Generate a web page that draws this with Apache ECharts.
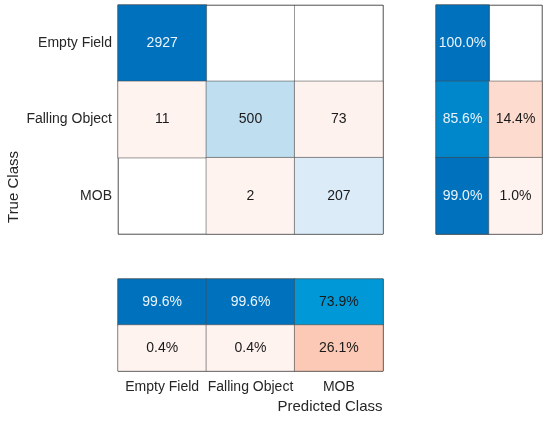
<!DOCTYPE html>
<html><head><meta charset="utf-8">
<script src="https://cdn.jsdelivr.net/npm/echarts@6/dist/echarts.min.js"></script>
<style>html,body{margin:0;padding:0;background:#fff}#c{width:550px;height:421px}</style>
</head><body><div id="c"></div>
<script>
// ---- data ----
const classes = ['Empty Field', 'Falling Object', 'MOB'];
const counts = [          // rows = true class, cols = predicted class
  [2927, null, null],
  [11, 500, 73],
  [null, 2, 207]
];
const rowSummary = [      // per true class: correct %, incorrect %
  [100.0, null],
  [85.6, 14.4],
  [99.0, 1.0]
];
const colSummary = [      // per predicted class: correct % (row 0), incorrect % (row 1)
  [99.6, 99.6, 73.9],
  [0.4, 0.4, 26.1]
];
const rowSummaryCols = ['c', 'i'];
const colSummaryRows = ['c', 'i'];

// ---- styles (cell colours) ----
const countColors = [
  ['#0072BD', '#ffffff', '#ffffff'],
  ['#FEF3EF', '#BFDFF1', '#FEF2EE'],
  ['#ffffff', '#FEF3EF', '#DBECF8']
];
const rowColors = [
  ['#0072BD', '#ffffff'],
  ['#0087CB', '#FDDCCF'],
  ['#0072BD', '#FEF3EF']
];
const colColors = [
  ['#0072BD', '#0072BD', '#0098D6'],
  ['#FEF3EF', '#FEF3EF', '#FBC9B5']
];
const darkCells = ['#0072BD', '#0087CB'];

const FONT = '"Liberation Sans", Arial, Helvetica, sans-serif';
const BORDER = 'rgba(70,70,70,0.55)';

function build(matrix, colors, pct) {
  const out = [];
  matrix.forEach((row, r) => row.forEach((v, c) => {
    if (v === null) return;
    const col = colors[r][c];
    out.push({
      value: [c, r, v],
      itemStyle: { color: col, borderColor: BORDER, borderWidth: 1 },
      label: { color: darkCells.includes(col) ? '#EAF4FB' : '#1a1a1a' },
      pct: pct
    });
  }));
  return out;
}
function fmt(p) {
  const v = p.value[2];
  return p.data.pct ? v.toFixed(1) + '%' : String(v);
}

const hiddenAxis = {
  axisLine: { show: false }, axisTick: { show: false }, axisLabel: { show: false },
  splitLine: { show: true, lineStyle: { color: BORDER, width: 1 } }
};
const labelBase = { show: true, fontSize: 14, fontFamily: FONT, formatter: fmt };

const chart = echarts.init(document.getElementById('c'), null, { renderer: 'canvas' });
chart.setOption({
  animation: false,
  backgroundColor: '#ffffff',
  textStyle: { fontFamily: FONT },
  grid: [
    { left: 118, top: 5, width: 265, height: 229, show: true, borderColor: BORDER, borderWidth: 1 },
    { left: 436, top: 5, width: 106, height: 229, show: true, borderColor: BORDER, borderWidth: 1 },
    { left: 118, top: 279, width: 265, height: 92, show: true, borderColor: BORDER, borderWidth: 1 }
  ],
  xAxis: [
    Object.assign({ type: 'category', gridIndex: 0, data: classes }, hiddenAxis),
    Object.assign({ type: 'category', gridIndex: 1, data: rowSummaryCols }, hiddenAxis),
    Object.assign({}, hiddenAxis, {
      type: 'category', gridIndex: 2, data: classes,
      axisLabel: { show: true, fontSize: 14, color: '#262626', fontFamily: FONT, margin: 9, interval: 0 }
    })
  ],
  yAxis: [
    Object.assign({}, hiddenAxis, {
      type: 'category', gridIndex: 0, data: classes, inverse: true,
      axisLabel: { show: true, fontSize: 14, color: '#262626', fontFamily: FONT, margin: 6 }
    }),
    Object.assign({ type: 'category', gridIndex: 1, data: classes, inverse: true }, hiddenAxis),
    Object.assign({ type: 'category', gridIndex: 2, data: colSummaryRows, inverse: true }, hiddenAxis)
  ],
  graphic: [
    {
      type: 'text', x: 14, y: 187, rotation: Math.PI / 2,
      style: { text: 'True Class', fontSize: 15, fontFamily: FONT, fill: '#262626', align: 'center', verticalAlign: 'middle' }
    },
    {
      type: 'text', x: 330, y: 407,
      style: { text: 'Predicted Class', fontSize: 15, fontFamily: FONT, fill: '#262626', align: 'center', verticalAlign: 'middle' }
    }
  ],
  series: [
    { type: 'heatmap', xAxisIndex: 0, yAxisIndex: 0, data: build(counts, countColors, false), label: labelBase },
    { type: 'heatmap', xAxisIndex: 1, yAxisIndex: 1, data: build(rowSummary, rowColors, true), label: labelBase },
    { type: 'heatmap', xAxisIndex: 2, yAxisIndex: 2, data: build(colSummary, colColors, true), label: labelBase }
  ]
});
</script>
</body></html>
